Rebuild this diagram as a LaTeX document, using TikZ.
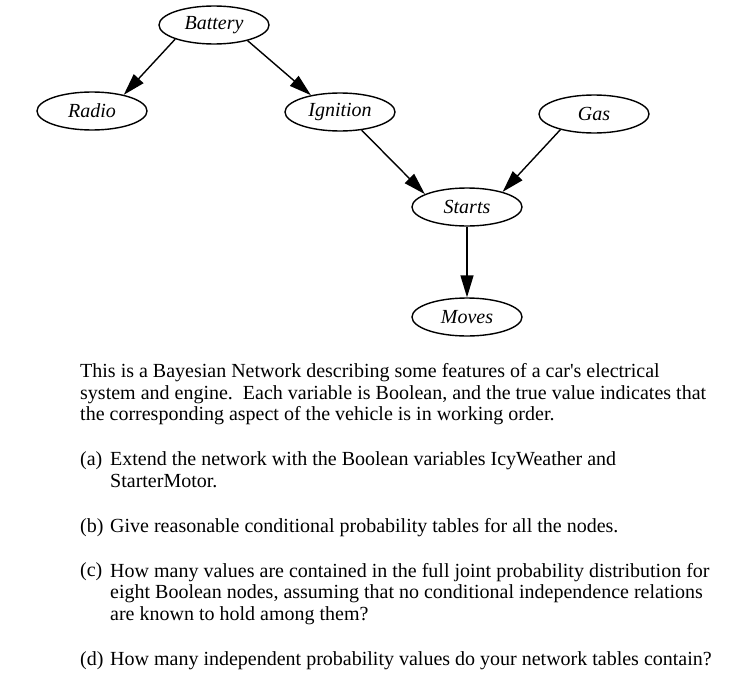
\documentclass[tikz,border=0pt]{standalone}
\usepackage{fontspec}
\setmainfont{Liberation Serif}
\usetikzlibrary{arrows.meta,shapes.geometric}
\newcommand\bodysize{\fontsize{20}{21.5}\selectfont}
\begin{document}
\begin{tikzpicture}[x=1pt,y=-1pt,
        var/.style={draw,ellipse,line width=1.4pt,minimum width=110pt,minimum height=38pt,inner sep=0pt,font=\bodysize\itshape},
        dep/.style={line width=1.4pt,-{Triangle[length=22pt,width=13pt]}},
        para/.style={anchor=base west,align=left,inner sep=0pt,font=\bodysize}]
        \useasboundingbox (0,0) rectangle (743,688);
        \node[var] (battery) at (214,25) {Battery};
        \node[var] (radio) at (92,111) {Radio};
        \node[var] (ignition) at (340,112) {Ignition};
        \node[var] (gas) at (594,114) {Gas};
        \node[var] (starts) at (467,207) {Starts};
        \node[var] (moves) at (467,317) {Moves};
        \draw[dep] (battery.200) -- (radio.27);
        \draw[dep] (battery.335) -- (ignition.150);
        \draw[dep] (ignition.320) -- (starts.163);
        \draw[dep] (gas.205) -- (starts.23);
        \draw[dep] (starts) -- (moves);
        % multi-line nodes sit on the baseline of their last line
        \node[para] (intro) at (80,420.5) {This is a Bayesian Network describing some features of a car\textquotesingle s electrical\\
            system and engine.\ \ Each variable is Boolean, and the true value indicates that\\
            the corresponding aspect of the vehicle is in working order.};
        \node[para] (la) at (80,465.5) {(a)};
        \node[para] (parta) at (110,487) {Extend the network with the Boolean variables IcyWeather and\\
            StarterMotor.};
        \node[para] (lb) at (80,532) {(b)};
        \node[para] (partb) at (110,532) {Give reasonable conditional probability tables for all the nodes.};
        \node[para] (lc) at (80,576.5) {(c)};
        \node[para] (partc) at (110,620) {How many values are contained in the full joint probability distribution for\\
            eight Boolean nodes, assuming that no conditional independence relations\\
            are known to hold among them?};
        \node[para] (ld) at (80,665.5) {(d)};
        \node[para] (partd) at (110,665.5) {How many independent probability values do your network tables contain?};
    \end{tikzpicture}
\end{document}
